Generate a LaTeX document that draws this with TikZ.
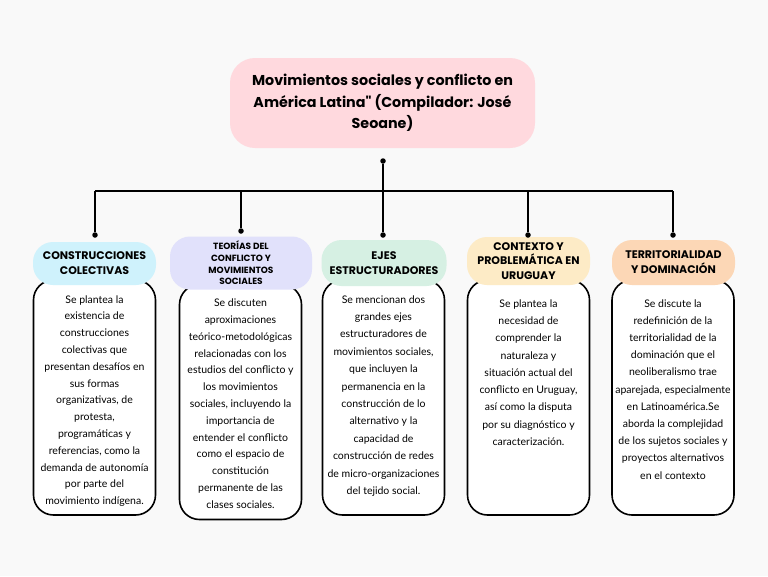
\documentclass[tikz,border=0pt]{standalone}
\usepackage{fontspec}
\setmainfont{Lato}
\newfontfamily\headfont{Poppins}
\usetikzlibrary{positioning}

\definecolor{bgcol}{HTML}{F9F9F9}
\definecolor{titlepink}{HTML}{FFD9DE}
\definecolor{headcyan}{HTML}{CFF2FC}
\definecolor{headlilac}{HTML}{E1E1FB}
\definecolor{headmint}{HTML}{D6F0E3}
\definecolor{headsand}{HTML}{FDEBC6}
\definecolor{headpeach}{HTML}{FCD7B6}

\begin{document}
\begin{tikzpicture}[x=1pt,y=-1pt,
  head/.style={rounded corners=20pt, inner sep=0pt, align=center, minimum width=123pt,
    font=\headfont\bfseries\fontsize{11}{15}\selectfont},
  body/.style={draw=black, line width=1.6pt, fill=white, rounded corners=20pt,
    minimum width=122pt, minimum height=235pt, inner sep=0pt},
  note/.style={align=center, anchor=north, inner sep=0pt, font=\fontsize{10.5}{16.8}\selectfont},
  link/.style={line width=1.4pt},
  dot/.style={circle, fill=black, inner sep=0pt, minimum size=5.5pt}]
% Background fixes the page size
\fill[bgcol] (0,0) rectangle (768,576);
% Title box
\node[fill=titlepink, rounded corners=25pt, minimum width=305pt, minimum height=90pt,
  align=center, font=\headfont\bfseries\fontsize{14.3}{21.5}\selectfont] (title) at (382.5,103)
  {Movimientos sociales y conflicto en\\América Latina" (Compilador: José\\Seoane)};
% Junctions of the bar
\node[dot] (d0) at (383,161) {};
\coordinate (j1) at (95,191);
\coordinate (j2) at (241,191);
\coordinate (j3) at (383,191);
\coordinate (j4) at (528,191);
\coordinate (j5) at (673,191);
% Body boxes
\node[body] (b1) at (94.5,397.5) {};
\node[body] (b2) at (240.5,402) {};
\node[body] (b3) at (383.5,397.5) {};
\node[body] (b4) at (528.5,397.5) {};
\node[body] (b5) at (673,397.5) {};
% Headers
\node[head, fill=headcyan, minimum height=43pt] (h1) at (94.5,263.5)
  {CONSTRUCCIONES\\COLECTIVAS};
\node[head, fill=headlilac, minimum width=142pt, minimum height=53pt,
  font=\headfont\bfseries\fontsize{9}{11.7}\selectfont] (h2) at (241,263)
  {TEORÍAS DEL\\CONFLICTO Y\\MOVIMIENTOS\\SOCIALES};
\node[head, fill=headmint, minimum width=125pt, minimum height=46pt] (h3) at (384,263)
  {EJES\\ESTRUCTURADORES};
\node[head, fill=headsand, minimum height=48pt, font=\headfont\bfseries\fontsize{11}{14.5}\selectfont] (h4) at (528.5,261)
  {CONTEXTO Y\\PROBLEMÁTICA EN\\URUGUAY};
\node[head, fill=headpeach, minimum height=45pt] (h5) at (673.5,262.5)
  {TERRITORIALIDAD\\Y DOMINACIÓN};
% Dots on top of the headers
\node[dot] (d1) at (95,235) {};
\node[dot] (d2) at (241,231) {};
\node[dot] (d3) at (383,235) {};
\node[dot] (d4) at (528,235) {};
\node[dot] (d5) at (673,235) {};
% Connectors
\draw[link] (j1) -- (j5);
\draw[link] (d0) -- (j3);
\draw[link] (j1) -- (d1);
\draw[link] (j2) -- (d2);
\draw[link] (j3) -- (d3);
\draw[link] (j4) -- (d4);
\draw[link] (j5) -- (d5);
% Texts in the bodies
\node[note, below=16pt of b1.north] (t1)
  {Se plantea la\\existencia de\\construcciones\\colectivas que\\presentan desafíos en\\sus formas\\organizativas, de\\protesta,\\programáticas y\\referencias, como la\\demanda de autonomía\\por parte del\\movimiento indígena.};
\node[note, below=15pt of b2.north] (t2)
  {Se discuten\\aproximaciones\\teórico-metodológicas\\relacionadas con los\\estudios del conflicto y\\los movimientos\\sociales, incluyendo la\\importancia de\\entender el conflicto\\como el espacio de\\constitución\\permanente de las\\clases sociales.};
\node[note, below=16pt of b3.north, font=\fontsize{10.5}{17.4}\selectfont] (t3)
  {Se mencionan dos\\grandes ejes\\estructuradores de\\movimientos sociales,\\que incluyen la\\permanencia en la\\construcción de lo\\alternativo y la\\capacidad de\\construcción de redes\\de micro-organizaciones\\del tejido social.};
\node[note, below=20pt of b4.north, font=\fontsize{10.5}{17.3}\selectfont] (t4)
  {Se plantea la\\necesidad de\\comprender la\\naturaleza y\\situación actual del\\conflicto en Uruguay,\\así como la disputa\\por su diagnóstico y\\caracterización.};
\node[note, below=20pt of b5.north, font=\fontsize{10.5}{17.2}\selectfont] (t5)
  {Se discute la\\redefinición de la\\territorialidad de la\\dominación que el\\neoliberalismo trae\\aparejada, especialmente\\en Latinoamérica.Se\\aborda la complejidad\\de los sujetos sociales y\\proyectos alternativos\\en el contexto};
\end{tikzpicture}
\end{document}
